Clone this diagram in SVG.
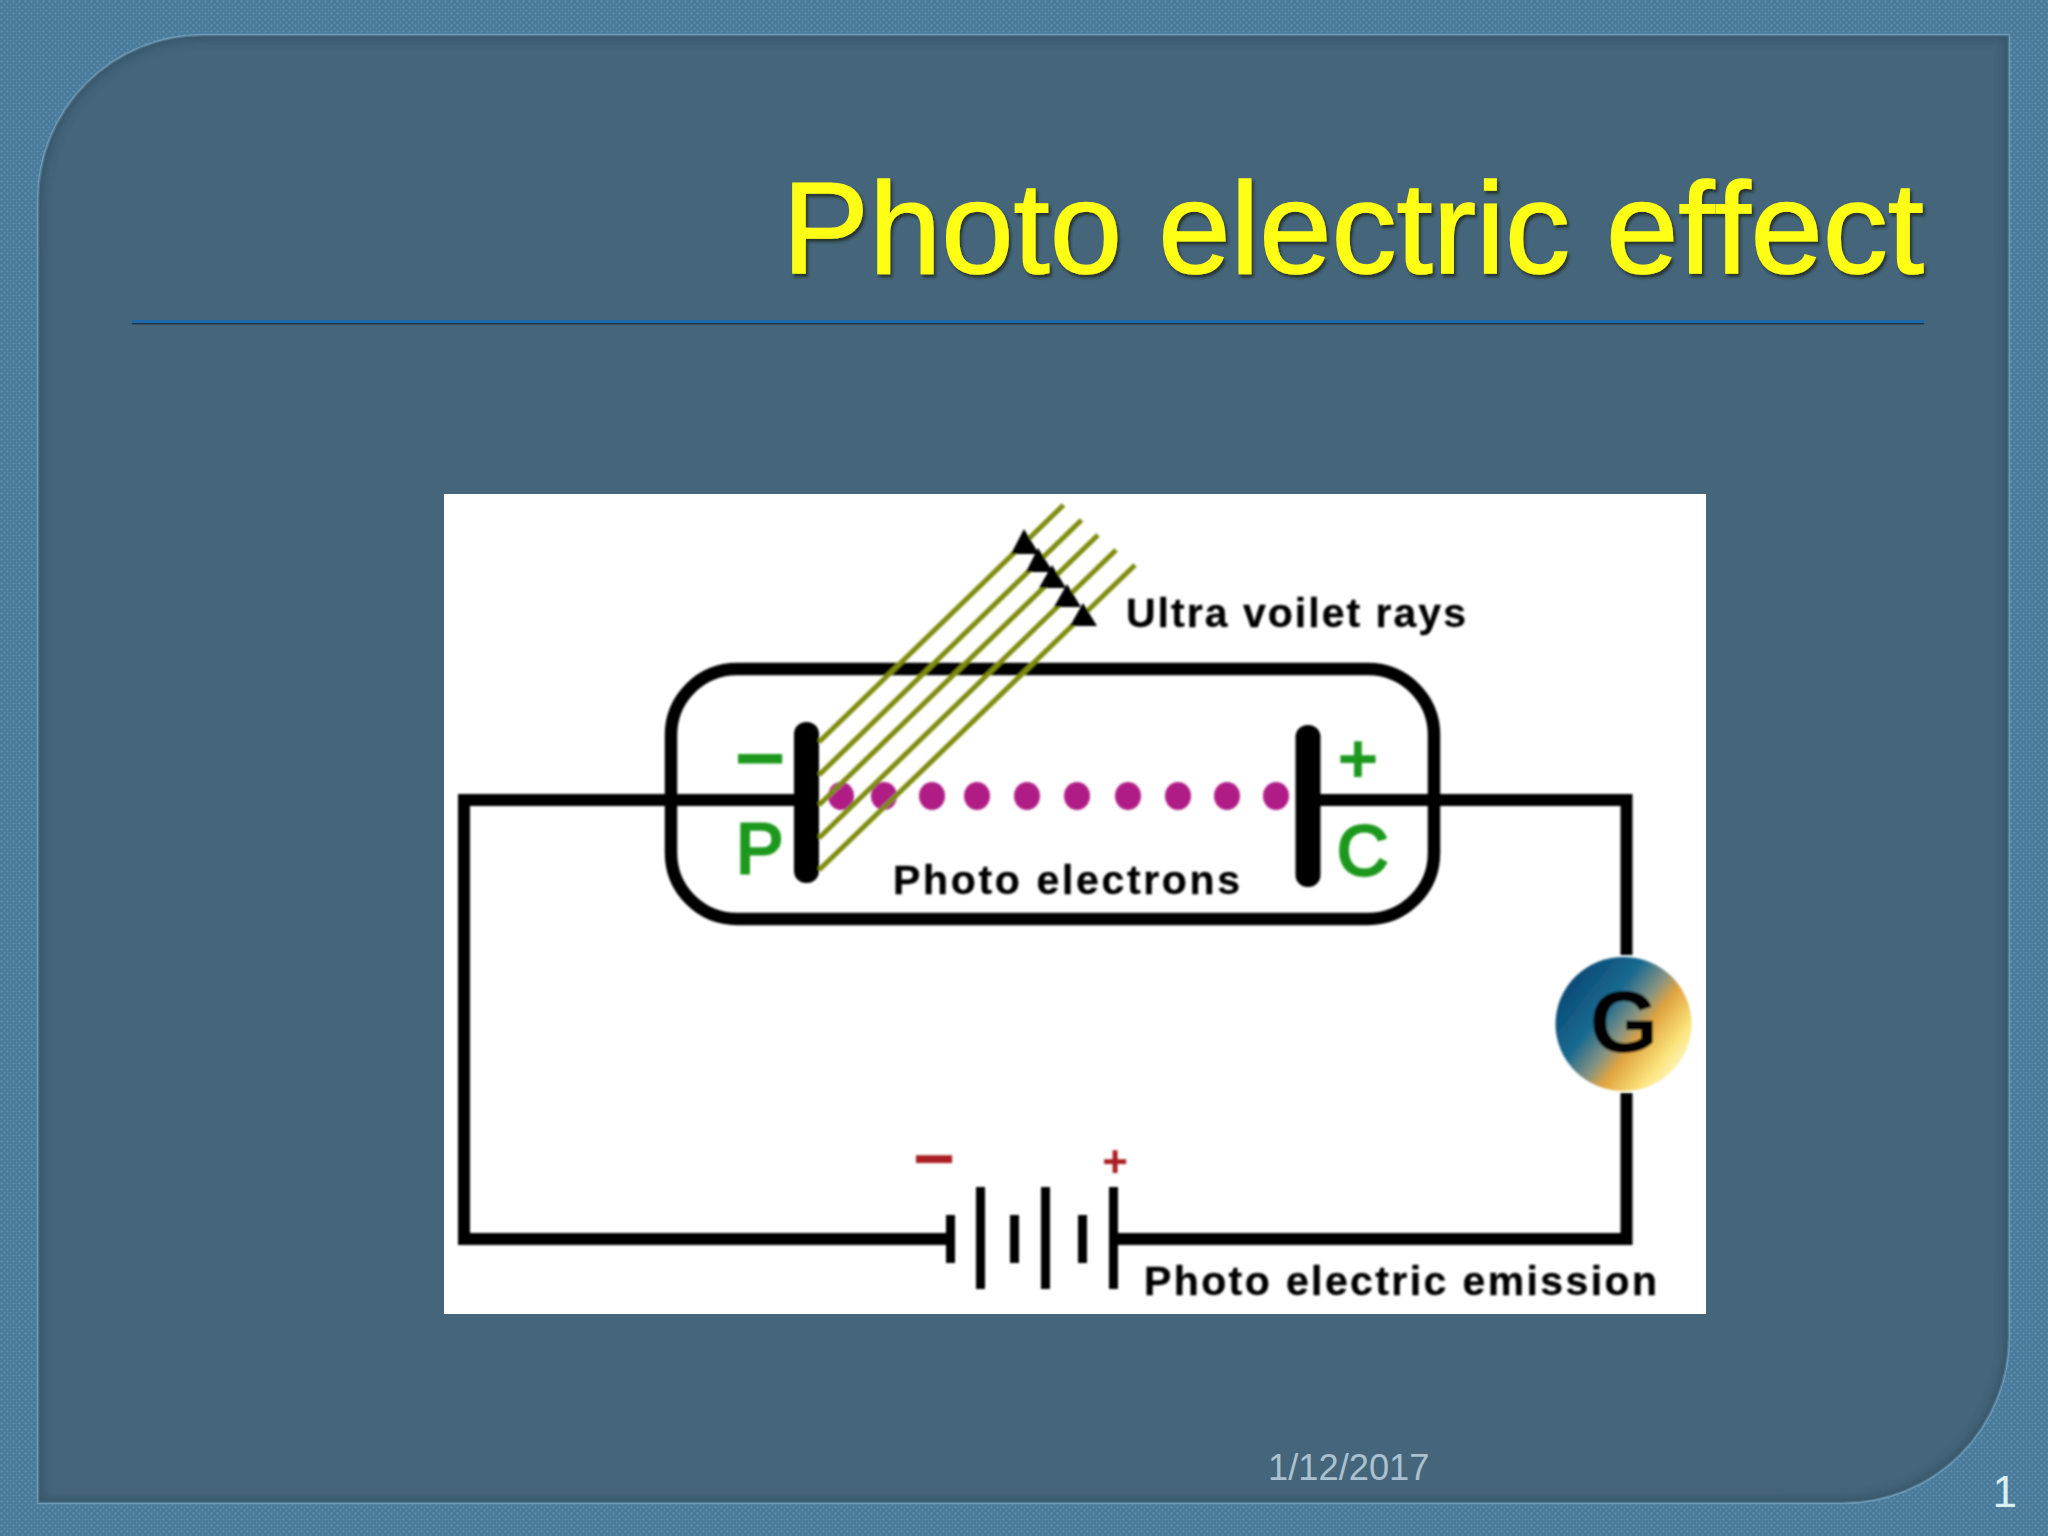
<svg xmlns="http://www.w3.org/2000/svg" width="2048" height="1536" viewBox="0 0 2048 1536">
<style>
.lbl{font-family:"Liberation Sans",Arial,sans-serif;font-weight:700;fill:#000;font-size:41px;stroke:#000;stroke-width:.3px}
.grn{font-family:"Liberation Sans",Arial,sans-serif;fill:#1f981f;stroke:#1f981f;stroke-width:3px}
.red{font-family:"Liberation Sans",Arial,sans-serif;font-weight:700;fill:#a81c24}
.wire{fill:none;stroke:#000;stroke-width:12;stroke-linejoin:miter}
.cell{stroke:#000;stroke-width:9;stroke-linecap:butt}
.plate{fill:#000}
.ray{stroke:#7e8c10;stroke-width:5}
.dot{fill:#b01f86}
.foot{font-family:"Liberation Sans",Arial,sans-serif}
</style>
<defs>
<pattern id="weave" width="6" height="6" patternUnits="userSpaceOnUse">
<rect width="6" height="6" fill="#4a7b9b"/>
<circle cx="1.5" cy="1.5" r="1.1" fill="#6393b3"/>
<circle cx="4.5" cy="4.5" r="1.1" fill="#5b8cac"/>
</pattern>
<linearGradient id="gGrad" x1="0.1" y1="0.22" x2="0.92" y2="0.85">
<stop offset="0" stop-color="#0a4c78"/>
<stop offset=".3" stop-color="#1a6a90"/>
<stop offset=".5" stop-color="#8a9480"/>
<stop offset=".62" stop-color="#e0a440"/>
<stop offset=".85" stop-color="#fbe47c"/>
<stop offset="1" stop-color="#fff8c8"/>
</linearGradient>
<clipPath id="panelClip"><path d="M203 35H2009V1337A166 166 0 0 1 1843 1503H38V200A165 165 0 0 1 203 35Z"/></clipPath>
<filter id="soft" x="-5%" y="-5%" width="110%" height="110%"><feGaussianBlur stdDeviation="5"/></filter>
<filter id="scan" x="-2%" y="-2%" width="104%" height="104%"><feGaussianBlur stdDeviation="0.8"/></filter>
<filter id="titleShadow" x="-5%" y="-20%" width="110%" height="140%">
<feGaussianBlur in="SourceGraphic" stdDeviation="0.6" result="b"/>
<feDropShadow in="b" dx="2" dy="3" stdDeviation="1.5" flood-color="#1a2a20" flood-opacity=".85"/>
</filter>
</defs>

<g id="background">
<rect width="2048" height="1536" fill="url(#weave)"/>
<path d="M203 35H2009V1337A166 166 0 0 1 1843 1503H38V200A165 165 0 0 1 203 35Z" fill="#45657a" stroke="#6e9ab6" stroke-width="2.500"/>
<g clip-path="url(#panelClip)"><path d="M203 35H2009V1337A166 166 0 0 1 1843 1503H38V200A165 165 0 0 1 203 35Z" fill="none" stroke="#2a4a5c" stroke-width="9" opacity=".6" filter="url(#soft)"/></g>
</g>

<g id="title">
<text x="1924" y="273" text-anchor="end" font-family="'Liberation Sans',Arial,sans-serif" font-size="130" fill="#ffff14" stroke="#ffff14" stroke-width="1.500" style="font-kerning:none;font-variant-ligatures:none" filter="url(#titleShadow)">Photo electric effect</text>
<rect x="132" y="323" width="1792" height="1.500" fill="#1f3a4e"/>
<rect x="132" y="320" width="1792" height="3" fill="#1f68a8"/>
</g>

<rect id="figure" x="444" y="494" width="1262" height="820" fill="#fff"/>

<g id="scene" filter="url(#scan)">
<g id="connectors">
<path class="wire" d="M794 800H464V1239H946"/>
<path class="wire" d="M1320 800H1626.500V955"/>
<path class="wire" d="M1626.500 1093V1239H1118"/>
</g>

<g id="tube">
<rect x="671" y="669" width="763" height="250" rx="66" ry="66" fill="none" stroke="#000" stroke-width="12.500"/>
</g>

<g id="electrons">
<ellipse class="dot" cx="841" cy="796" rx="13" ry="14"/>
<ellipse class="dot" cx="884" cy="796" rx="13" ry="14"/>
<ellipse class="dot" cx="932" cy="796" rx="13" ry="14"/>
<ellipse class="dot" cx="977" cy="796" rx="13" ry="14"/>
<ellipse class="dot" cx="1027" cy="796" rx="13" ry="14"/>
<ellipse class="dot" cx="1077" cy="796" rx="13" ry="14"/>
<ellipse class="dot" cx="1128" cy="796" rx="13" ry="14"/>
<ellipse class="dot" cx="1178" cy="796" rx="13" ry="14"/>
<ellipse class="dot" cx="1227" cy="796" rx="13" ry="14"/>
<ellipse class="dot" cx="1276" cy="796" rx="13" ry="14"/>
</g>

<g id="plate-p">
<rect class="plate" x="794" y="722" width="25" height="161" rx="12"/>
<text class="grn" x="736" y="873" font-size="71">P</text>
<text class="grn" x="760" y="788" font-size="88" font-weight="700" text-anchor="middle" style="stroke-width:0">−</text>
</g>

<g id="plate-c">
<rect class="plate" x="1295.500" y="725" width="25" height="162" rx="12"/>
<text class="grn" x="1337" y="875" font-size="71">C</text>
<text class="grn" x="1358" y="783" font-size="70" font-weight="700" text-anchor="middle" style="stroke-width:0">+</text>
</g>

<g id="rays">
<line class="ray" x1="1063.500" y1="505" x2="819" y2="742"/>
<line class="ray" x1="1081.500" y1="520" x2="819" y2="775"/>
<line class="ray" x1="1098" y1="535" x2="819" y2="805"/>
<line class="ray" x1="1116" y1="550" x2="819" y2="838"/>
<line class="ray" x1="1135" y1="565" x2="819" y2="870"/>
<polygon points="1024,529 1011,554 1039,554"/>
<polygon points="1038,548 1026,572 1053,572"/>
<polygon points="1052,565 1039,588 1066,588"/>
<polygon points="1067,584 1054,607 1081,607"/>
<polygon points="1083,603 1070,626 1097,626"/>
<text class="lbl" x="1126" y="627" textLength="340" lengthAdjust="spacing">Ultra voilet rays</text>
</g>

<text id="label-electrons" class="lbl" x="893" y="894" textLength="347" lengthAdjust="spacing">Photo electrons</text>

<g id="galvanometer">
<ellipse cx="1623.500" cy="1024" rx="68" ry="67" fill="url(#gGrad)"/>
<text x="1624" y="1052" text-anchor="middle" font-family="'Liberation Sans',Arial,sans-serif" font-weight="700" font-size="88" fill="#000">G</text>
</g>

<g id="battery">
<line class="cell" x1="950.500" y1="1215" x2="950.500" y2="1263"/>
<line class="cell" x1="980.500" y1="1187" x2="980.500" y2="1289"/>
<line class="cell" x1="1014.500" y1="1215" x2="1014.500" y2="1263"/>
<line class="cell" x1="1045.500" y1="1187" x2="1045.500" y2="1289"/>
<line class="cell" x1="1082.500" y1="1215" x2="1082.500" y2="1263"/>
<line class="cell" x1="1113.500" y1="1187" x2="1113.500" y2="1289"/>
<text class="red" x="934" y="1183" font-size="72" text-anchor="middle">−</text>
<text class="red" x="1115" y="1177" font-size="44" text-anchor="middle">+</text>
</g>

<text id="label-emission" class="lbl" x="1144" y="1295" textLength="513" lengthAdjust="spacing">Photo electric emission</text>
</g>

<g id="footer">
<text class="foot" x="1268" y="1480" font-size="36.300" fill="#a9c1d0">1/12/2017</text>
<text class="foot" x="2017" y="1507" font-size="44" text-anchor="end" fill="#d9f0f4">1</text>
</g>
</svg>
